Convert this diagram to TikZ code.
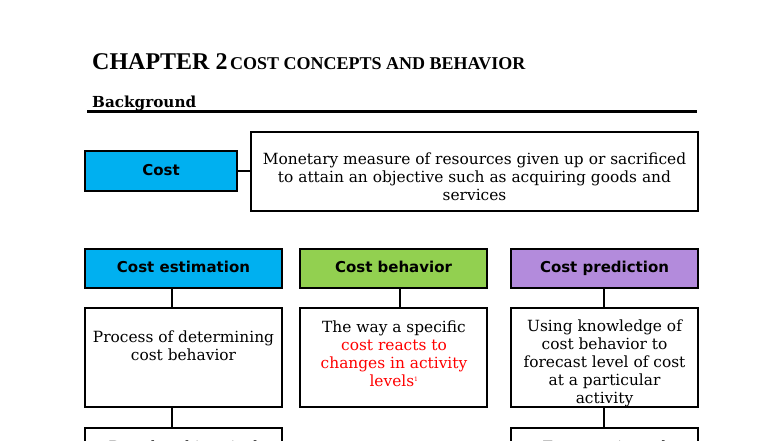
\documentclass[tikz,border=0pt]{standalone}
\usepackage{fontspec}
\setmainfont{DejaVu Serif}
\setsansfont{DejaVu Sans}
\newfontfamily\chapfont{Liberation Serif}
\usetikzlibrary{positioning}
\definecolor{costblue}{RGB}{0,176,240}
\definecolor{costgreen}{RGB}{146,208,80}
\definecolor{costpurple}{RGB}{179,139,220}
\definecolor{costred}{RGB}{255,0,0}
\begin{document}
\begin{tikzpicture}[x=1pt,y=-1pt,
    head/.style={draw,line width=2.2pt,inner sep=0pt,minimum height=39pt,
      text height=11pt,text depth=3pt,
      font=\sffamily\bfseries\fontsize{15}{18}\selectfont},
    box/.style={draw,line width=2.2pt,fill=white,inner sep=0pt},
    body/.style={align=center,inner sep=0pt,font=\fontsize{15.4}{18}\selectfont}]
  \clip (0,0) rectangle (784,441);
  \fill[white] (0,0) rectangle (784,441);
  % title
  \node[anchor=base west,inner sep=0pt,font=\chapfont\bfseries\fontsize{24}{28}\selectfont]
    (chap) at (92,70) {CHAPTER 2};
  \node[anchor=base west,inner sep=0pt,font=\chapfont\bfseries\fontsize{18}{22}\selectfont]
    (sub) at (230,70) {COST CONCEPTS AND BEHAVIOR};
  \node[anchor=base west,inner sep=0pt,font=\bfseries\fontsize{15.2}{18}\selectfont]
    (bg) at (92,108) {Background};
  \draw[line width=2.2pt] (87,111.5) -- (697,111.5);
  % cost
  \node[head,fill=costblue,minimum width=152pt,minimum height=40pt] (cost) at (161,171) {Cost};
  \node[box,minimum width=447pt,minimum height=79pt] (def) at (474.5,171.5) {};
  \node[body] (deft) at (474.5,177) {Monetary measure of resources given up or sacrificed\\
    to attain an objective such as acquiring goods and\\ services};
  % heads
  \node[head,fill=costblue,minimum width=197pt] (est) at (183.5,268.5) {Cost estimation};
  \node[head,fill=costgreen,minimum width=187pt] (beh) at (393.5,268.5) {Cost behavior};
  \node[head,fill=costpurple,minimum width=187pt] (pre) at (604.5,268.5) {Cost prediction};
  % descriptions
  \node[box,minimum width=197pt,minimum height=99pt] (estd) at (183.5,357.5) {};
  \node[box,minimum width=187pt,minimum height=99pt] (behd) at (393.5,357.5) {};
  \node[box,minimum width=187pt,minimum height=99pt] (pred) at (604.5,357.5) {};
  \node[body] (estt) at (183.5,346) {Process of determining\\ cost behavior};
  \node[body] (beht) at (394,353.5) {The way a specific\\
    \textcolor{costred}{cost reacts to}\\ \textcolor{costred}{changes in activity}\\
    \textcolor{costred}{levels\textsuperscript{\fontsize{6}{6}\selectfont 1}}};
  \node[body] (pret) at (604.5,363) {Using knowledge of\\ cost behavior to\\
    forecast level of cost\\ at a particular\\ activity};
  % bottom
  \node[box,minimum width=197pt,minimum height=60pt] (estb) at (183.5,458) {};
  \node[box,minimum width=187pt,minimum height=60pt] (preb) at (604.5,458) {};
  \node[body] (estbt) at (183.5,447) {Based on historical};
  \node[body] (prebt) at (604.5,447) {Future-oriented};
  % connectors
  \begin{scope}[line width=2.2pt]
    \draw (cost.east) -- (cost.east -| def.west);
    \draw ([xshift=-11.5pt]est.south) -- ([xshift=-11.5pt]estd.north);
    \draw ([xshift=6.5pt]beh.south) -- ([xshift=6.5pt]behd.north);
    \draw ([xshift=-0.5pt]pre.south) -- ([xshift=-0.5pt]pred.north);
    \draw ([xshift=-11.5pt]estd.south) -- ([xshift=-11.5pt]estb.north);
    \draw ([xshift=-0.5pt]pred.south) -- ([xshift=-0.5pt]preb.north);
  \end{scope}
\end{tikzpicture}
\end{document}
